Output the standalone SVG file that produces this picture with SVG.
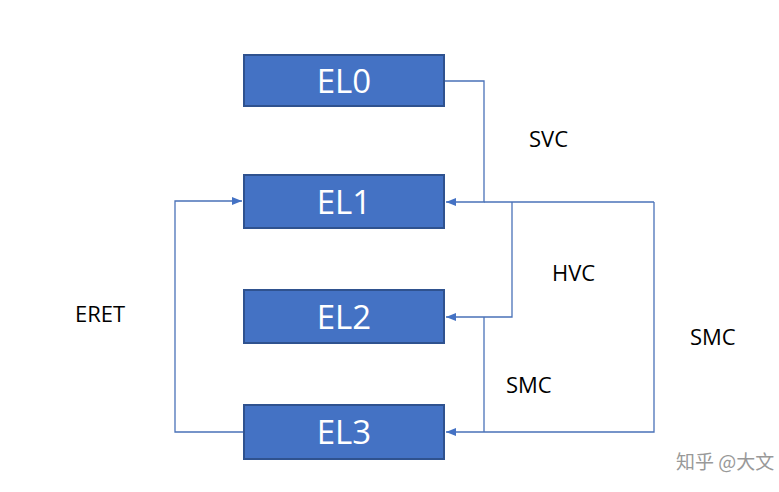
<svg xmlns="http://www.w3.org/2000/svg" width="779" height="492" viewBox="0 0 779 492">
<style>
.box{fill:#4472c4;stroke:#2f528f;stroke-width:2}
.bt{fill:#fff;font-family:"Open Sans","Liberation Sans",sans-serif;font-size:33px;text-anchor:middle}
.lb{fill:#000;font-family:"Open Sans","Liberation Sans",sans-serif;font-size:22px}
.c{fill:none;stroke:#4a72b8;stroke-width:1.3}
</style>
<defs><marker id="a" markerWidth="10" markerHeight="8" refX="10" refY="4" orient="auto" markerUnits="userSpaceOnUse"><path d="M0,0L10,4L0,8z" fill="#4472c4"/></marker></defs>
<rect width="779" height="492" fill="#fff"/>
<g id="connectors">
<path class="c" d="M444,81H484V202H446" marker-end="url(#a)"/>
<path class="c" d="M654,202V432H446" marker-end="url(#a)"/>
<path class="c" d="M484,202H654"/>
<path class="c" d="M512,202V317H446" marker-end="url(#a)"/>
<path class="c" d="M484,317V432"/>
<path class="c" d="M244,432H175V201H242" marker-end="url(#a)"/>
</g>
<g id="EL0"><rect class="box" x="244" y="55" width="200" height="51"/><text class="bt" x="344" y="93">EL0</text></g>
<g id="EL1"><rect class="box" x="244" y="175" width="200" height="53"/><text class="bt" x="344" y="214">EL1</text></g>
<g id="EL2"><rect class="box" x="244" y="290" width="200" height="53"/><text class="bt" x="344" y="329">EL2</text></g>
<g id="EL3"><rect class="box" x="244" y="405" width="200" height="54"/><text class="bt" x="344" y="444">EL3</text></g>
<text class="lb" x="529" y="147">SVC</text>
<text class="lb" x="552" y="281">HVC</text>
<text class="lb" x="506" y="393">SMC</text>
<text class="lb" x="690" y="345">SMC</text>
<text class="lb" x="75" y="322">ERET</text>
<text x="676" y="469" style="fill:#999;font-family:'Noto Sans CJK SC',sans-serif;font-size:19px">知乎 @大文</text>
</svg>
